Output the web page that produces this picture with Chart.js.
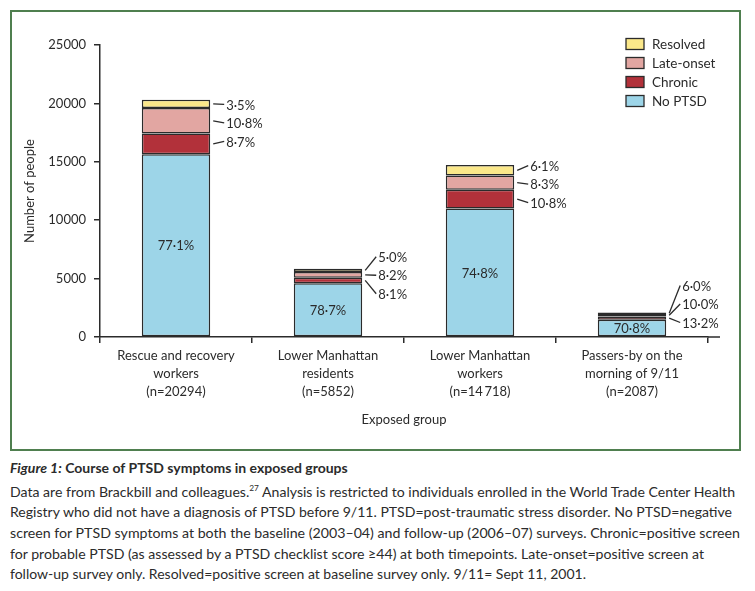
<!DOCTYPE html>
<html lang="en">
<head>
    <meta charset="UTF-8">
    <title>Course of PTSD symptoms in exposed groups</title>
    <script src="https://cdn.jsdelivr.net/npm/chart.js"></script>
    <style>
        body { margin: 0; background: #fff; font-family: Lato, "Noto Sans", sans-serif; color: #2b2b2b; }
        .frame { position: absolute; left: 10px; top: 10px; width: 727px; height: 437px; border: 2px solid #4f7f4f; }
        .caption { position: absolute; left: 10px; top: 458px; font-size: 13.5px; white-space: nowrap; }
        .caption .title { font-weight: bold; font-size: 14px; line-height: 20px; }
        .caption .line { line-height: 20.7px; display: table; transform-origin: left center; }
        .caption .line:first-of-type { margin-top: 1.5px; }
        .caption sup { font-size: 8px; }
    </style>
</head>
<body>
<div class="frame"><canvas id="ptsdChart"></canvas></div>
<div class="caption">
    <div class="title"><i>Figure 1:</i> Course of PTSD symptoms in exposed groups</div>
    <div class="line" data-w="725">Data are from Brackbill and colleagues.<sup>27</sup> Analysis is restricted to individuals enrolled in the World Trade Center Health</div>
    <div class="line" data-w="722">Registry who did not have a diagnosis of PTSD before 9/11. PTSD=post-traumatic stress disorder. No PTSD=negative</div>
    <div class="line" data-w="730">screen for PTSD symptoms at both the baseline (2003–04) and follow-up (2006–07) surveys. Chronic=positive screen</div>
    <div class="line" data-w="694">for probable PTSD (as assessed by a PTSD checklist score ≥44) at both timepoints. Late-onset=positive screen at</div>
    <div class="line" data-w="576">follow-up survey only. Resolved=positive screen at baseline survey only. 9/11= Sept 11, 2001.</div>
</div>

<script>
    // Exposed groups (x axis labels, one array per line of text)
    const groups = [
        ['Rescue and recovery', 'workers', '(n=20294)'],
        ['Lower Manhattan', 'residents', '(n=5852)'],
        ['Lower Manhattan', 'workers', '(n=14\u2009718)'],
        ['Passers-by on the', 'morning of 9/11', '(n=2087)']
    ];

    // Number of people per outcome
    const noPtsd = [15650, 4605, 11010, 1478];
    const chronic = [1765, 474, 1590, 275];
    const lateOnset = [2190, 480, 1222, 209];
    const resolved = [710, 293, 898, 125];

    // Percentages printed next to / inside the bars
    const noPtsdPct = [77.1, 78.7, 74.8, 70.8];
    const chronicPct = [8.7, 8.1, 10.8, 13.2];
    const lateOnsetPct = [10.8, 8.2, 8.3, 10.0];
    const resolvedPct = [3.5, 5.0, 6.1, 6.0];

    const yTicks = [0, 5000, 10000, 15000, 20000, 25000];

    const ink = '#2b2b2b';
    const fontFamily = 'Lato, "Noto Sans", sans-serif';
    Chart.defaults.font.family = fontFamily;
    Chart.defaults.color = ink;

    const fmtPct = v => v.toFixed(1).replace('.', '\u00b7') + '%';

    // caption lines are set in a condensed face in the original; squeeze to the same widths
    document.querySelectorAll('.caption .line').forEach(el => {
        const w = el.getBoundingClientRect().width;
        el.style.transform = 'scaleX(' + (Number(el.dataset.w) / w) + ')';
    });

    // Labels inside the No PTSD segment and leader-lined labels at the right
    const barLabels = {
        id: 'barLabels',
        afterDatasetsDraw(chart) {
            const ctx = chart.ctx;
            const pcts = [noPtsdPct, chronicPct, lateOnsetPct, resolvedPct];
            ctx.save();
            ctx.font = '13px ' + fontFamily;
            ctx.fillStyle = ink;
            ctx.strokeStyle = ink;
            ctx.lineWidth = 1.3;
            ctx.textBaseline = 'middle';
            groups.forEach((g, i) => {
                const base = chart.getDatasetMeta(0).data[i];
                ctx.textAlign = 'center';
                ctx.fillText(fmtPct(pcts[0][i]), base.x, (base.y + base.base) / 2 + 1);

                const segs = [3, 2, 1].map(d => {
                    const el = chart.getDatasetMeta(d).data[i];
                    return { d, y: (el.y + el.base) / 2, right: el.x + el.width / 2 };
                });
                let mid = segs.reduce((s, o) => s + o.y, 0) / segs.length;
                mid = Math.min(mid, chart.chartArea.bottom - 33);
                ctx.textAlign = 'left';
                segs.forEach((s, k) => {
                    const ly = mid + (k - 1) * 18.5;
                    ctx.beginPath();
                    ctx.moveTo(s.right + 3, s.y);
                    ctx.lineTo(s.right + 14, ly);
                    ctx.stroke();
                    ctx.fillText(fmtPct(pcts[s.d][i]), s.right + 16, ly + 1);
                });
            });
            ctx.restore();
        },
        afterDraw(chart) {
            const ctx = chart.ctx;
            const area = chart.chartArea;
            ctx.save();
            // x axis line runs a little past the last tick
            ctx.strokeStyle = ink;
            ctx.lineWidth = 1.5;
            ctx.beginPath();
            ctx.moveTo(area.right, area.bottom);
            ctx.lineTo(area.right + 12, area.bottom);
            ctx.stroke();

            // legend, top right, stacking order reversed
            ctx.font = '13.5px ' + fontFamily;
            ctx.textBaseline = 'middle';
            ctx.textAlign = 'left';
            const sets = chart.data.datasets.slice().reverse();
            sets.forEach((ds, k) => {
                const y = 32 + k * 19;
                ctx.fillStyle = ds.backgroundColor;
                ctx.fillRect(614, y - 5.5, 18, 11);
                ctx.strokeStyle = ink;
                ctx.lineWidth = 1.3;
                ctx.strokeRect(614, y - 5.5, 18, 11);
                ctx.fillStyle = ink;
                ctx.fillText(ds.label, 640, y + 1);
            });
            ctx.restore();
        }
    };

    const barStyle = { borderColor: ink, borderWidth: 1.5, borderSkipped: false, barPercentage: 0.45, categoryPercentage: 1 };

    new Chart(document.getElementById('ptsdChart'), {
        type: 'bar',
        data: {
            labels: groups,
            datasets: [
                { label: 'No PTSD', data: noPtsd, backgroundColor: '#9dd5e8', ...barStyle },
                { label: 'Chronic', data: chronic, backgroundColor: '#b2313a', ...barStyle },
                { label: 'Late-onset', data: lateOnset, backgroundColor: '#e2a6a2', ...barStyle },
                { label: 'Resolved', data: resolved, backgroundColor: '#fbe88a', ...barStyle }
            ]
        },
        options: {
            responsive: true,
            maintainAspectRatio: false,
            animation: false,
            layout: { padding: { left: 0, top: 33, right: 31, bottom: 0 } },
            plugins: { legend: { display: false }, tooltip: { enabled: false } },
            scales: {
                x: {
                    stacked: true,
                    afterFit: s => { s.height = 112; },
                    grid: { drawOnChartArea: false, drawTicks: true, tickLength: 6, color: ink, lineWidth: 1.5 },
                    border: { color: ink, width: 1.5 },
                    ticks: { padding: 4, font: { size: 13 , lineHeight: 1.38 }, color: ink, maxRotation: 0 },
                    title: { display: true, text: 'Exposed group', font: { size: 13 }, color: ink, padding: { top: 4, bottom: 21 } }
                },
                y: {
                    stacked: true,
                    min: 0,
                    max: 25000,
                    afterFit: s => { s.width = 88; },
                    afterBuildTicks: s => { s.ticks = yTicks.map(v => ({ value: v })); },
                    grid: { drawOnChartArea: false, drawTicks: true, tickLength: 6, color: ink, lineWidth: 1.5 },
                    border: { color: ink, width: 1.5 },
                    ticks: { padding: 8, font: { size: 13 }, color: ink, callback: v => String(v) },
                    title: { display: true, text: 'Number of people', font: { size: 13 }, color: ink, padding: { top: 10, bottom: 0 } }
                }
            }
        },
        plugins: [barLabels]
    });
</script>
</body>
</html>
